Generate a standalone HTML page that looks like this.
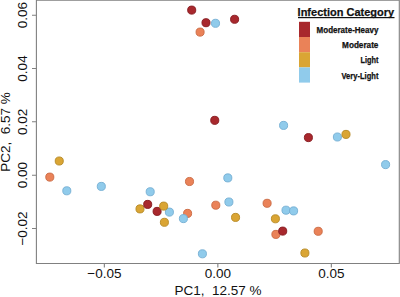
<!DOCTYPE html>
<html><head><meta charset="utf-8"><style>
html,body{margin:0;padding:0;background:#fff;width:400px;height:297px;overflow:hidden}
svg{display:block}
text{font-family:"Liberation Sans",sans-serif}
.lg{font-weight:bold}
</style></head><body>
<svg width="400" height="297" viewBox="0 0 400 297">
<g stroke="#808080" stroke-width="1.1" fill="none">
<path d="M36.4 0.3H399.3V263.5H36.4Z"/>
<path d="M32 15.2H36.5M32 68.5H36.5M32 121.8H36.5M32 175.2H36.5M32 228.5H36.5"/>
<path d="M104.35 263.5V267.5M217.85 263.5V267.5M331.35 263.5V267.5"/>
</g>
<g font-size="13.5" fill="#111" text-anchor="middle">
<text x="104.35" y="278.3">−0.05</text>
<text x="217.85" y="278.3">0.00</text>
<text x="331.35" y="278.3">0.05</text>
<text font-size="13.5" transform="translate(26.9 15.2) rotate(-90)">0.06</text>
<text font-size="13.5" transform="translate(26.9 68.5) rotate(-90)">0.04</text>
<text font-size="13.5" transform="translate(26.9 121.8) rotate(-90)">0.02</text>
<text font-size="13.5" transform="translate(26.9 175.2) rotate(-90)">0.00</text>
<text font-size="13.5" transform="translate(26.9 228.5) rotate(-90)">−0.02</text>
</g>
<g font-size="13.5" fill="#111">
<text x="174.5" y="294.5" xml:space="preserve">PC1,  12.57 %</text>
<text transform="translate(10.2 171.7) rotate(-90)" xml:space="preserve">PC2,  6.57 %</text>
</g>
<circle cx="191.7" cy="10.1" r="4.05" fill="#a8282d" stroke="#84191e" stroke-width="0.9"/>
<circle cx="206.0" cy="22.7" r="4.05" fill="#a8282d" stroke="#84191e" stroke-width="0.9"/>
<circle cx="215.5" cy="23.3" r="4.05" fill="#90cbeb" stroke="#74aed2" stroke-width="0.9"/>
<circle cx="234.6" cy="19.3" r="4.05" fill="#a8282d" stroke="#84191e" stroke-width="0.9"/>
<circle cx="200.1" cy="32.1" r="4.05" fill="#ea8258" stroke="#c96942" stroke-width="0.9"/>
<circle cx="214.75" cy="120.35" r="4.05" fill="#a8282d" stroke="#84191e" stroke-width="0.9"/>
<circle cx="283.6" cy="125.4" r="4.05" fill="#90cbeb" stroke="#74aed2" stroke-width="0.9"/>
<circle cx="308.4" cy="137.6" r="4.05" fill="#a8282d" stroke="#84191e" stroke-width="0.9"/>
<circle cx="337.4" cy="137.0" r="4.05" fill="#90cbeb" stroke="#74aed2" stroke-width="0.9"/>
<circle cx="346.0" cy="134.4" r="4.05" fill="#daa534" stroke="#b58925" stroke-width="0.9"/>
<circle cx="385.6" cy="164.6" r="4.05" fill="#90cbeb" stroke="#74aed2" stroke-width="0.9"/>
<circle cx="59.25" cy="161.0" r="4.05" fill="#daa534" stroke="#b58925" stroke-width="0.9"/>
<circle cx="49.8" cy="177.1" r="4.05" fill="#ea8258" stroke="#c96942" stroke-width="0.9"/>
<circle cx="66.8" cy="190.8" r="4.05" fill="#90cbeb" stroke="#74aed2" stroke-width="0.9"/>
<circle cx="101.3" cy="186.4" r="4.05" fill="#90cbeb" stroke="#74aed2" stroke-width="0.9"/>
<circle cx="189.5" cy="181.5" r="4.05" fill="#ea8258" stroke="#c96942" stroke-width="0.9"/>
<circle cx="150.2" cy="191.75" r="4.05" fill="#90cbeb" stroke="#74aed2" stroke-width="0.9"/>
<circle cx="227.8" cy="177.9" r="4.05" fill="#90cbeb" stroke="#74aed2" stroke-width="0.9"/>
<circle cx="140.0" cy="208.9" r="4.05" fill="#daa534" stroke="#b58925" stroke-width="0.9"/>
<circle cx="147.7" cy="204.4" r="4.05" fill="#a8282d" stroke="#84191e" stroke-width="0.9"/>
<circle cx="169.4" cy="212.1" r="4.05" fill="#90cbeb" stroke="#74aed2" stroke-width="0.9"/>
<circle cx="157.1" cy="211.4" r="4.05" fill="#a8282d" stroke="#84191e" stroke-width="0.9"/>
<circle cx="163.7" cy="206.1" r="4.05" fill="#daa534" stroke="#b58925" stroke-width="0.9"/>
<circle cx="164.4" cy="222.3" r="4.05" fill="#daa534" stroke="#b58925" stroke-width="0.9"/>
<circle cx="187.6" cy="213.4" r="4.05" fill="#ea8258" stroke="#c96942" stroke-width="0.9"/>
<circle cx="183.4" cy="218.6" r="4.05" fill="#90cbeb" stroke="#74aed2" stroke-width="0.9"/>
<circle cx="215.8" cy="205.2" r="4.05" fill="#ea8258" stroke="#c96942" stroke-width="0.9"/>
<circle cx="228.9" cy="202.0" r="4.05" fill="#90cbeb" stroke="#74aed2" stroke-width="0.9"/>
<circle cx="235.55" cy="217.4" r="4.05" fill="#daa534" stroke="#b58925" stroke-width="0.9"/>
<circle cx="202.4" cy="253.8" r="4.05" fill="#90cbeb" stroke="#74aed2" stroke-width="0.9"/>
<circle cx="267.1" cy="203.3" r="4.05" fill="#ea8258" stroke="#c96942" stroke-width="0.9"/>
<circle cx="286.0" cy="210.2" r="4.05" fill="#90cbeb" stroke="#74aed2" stroke-width="0.9"/>
<circle cx="293.6" cy="210.9" r="4.05" fill="#90cbeb" stroke="#74aed2" stroke-width="0.9"/>
<circle cx="275.4" cy="218.8" r="4.05" fill="#daa534" stroke="#b58925" stroke-width="0.9"/>
<circle cx="275.9" cy="234.4" r="4.05" fill="#ea8258" stroke="#c96942" stroke-width="0.9"/>
<circle cx="282.7" cy="231.1" r="4.05" fill="#a8282d" stroke="#84191e" stroke-width="0.9"/>
<circle cx="318.2" cy="231.3" r="4.05" fill="#ea8258" stroke="#c96942" stroke-width="0.9"/>
<circle cx="304.9" cy="253.0" r="4.05" fill="#daa534" stroke="#b58925" stroke-width="0.9"/>
<g>
<rect x="299" y="21.8" width="11" height="15.2" fill="#a8282d"/>
<rect x="299" y="37" width="11" height="15.2" fill="#ea8258"/>
<rect x="299" y="52.2" width="11" height="15.2" fill="#daa534"/>
<rect x="299" y="67.4" width="11" height="15.2" fill="#90cbeb"/>
</g>
<g class="lg" fill="#111" stroke="#111" stroke-width="0.25">
<text x="297.6" y="16" font-size="11.8" textLength="96.5" lengthAdjust="spacingAndGlyphs">Infection Category</text>
<rect x="298" y="17" width="96.5" height="1.2" fill="#111" stroke="none"/>
<g font-size="8.3">
<text x="316.6" y="32.5" textLength="61.8" lengthAdjust="spacingAndGlyphs">Moderate-Heavy</text>
<text x="342.1" y="47.6" textLength="36.3" lengthAdjust="spacingAndGlyphs">Moderate</text>
<text x="360.5" y="62.7" textLength="17.9" lengthAdjust="spacingAndGlyphs">Light</text>
<text x="341.5" y="78.6" textLength="36.9" lengthAdjust="spacingAndGlyphs">Very-Light</text>
</g>
</g>
</svg>
</body></html>
